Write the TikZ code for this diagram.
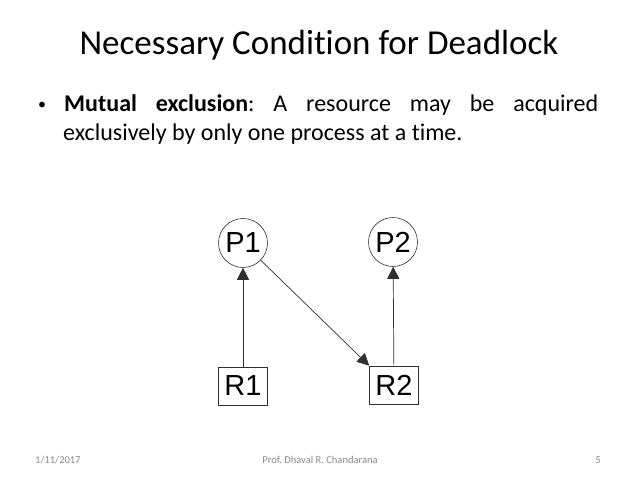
\documentclass[tikz,border=0pt]{standalone}
\usepackage{fontspec}
\setmainfont{Carlito}[Ligatures=NoCommon]
\newfontfamily\diagfont{Liberation Sans}
\usetikzlibrary{arrows.meta}
\frenchspacing

\definecolor{footgray}{HTML}{898989}
\definecolor{edgegray}{HTML}{303030}

\tikzset{
  process/.style={draw=edgegray,circle,line width=0.6pt,minimum size=49pt,inner sep=0pt,font=\diagfont\fontsize{29}{29}\selectfont},
  resource/.style={draw=edgegray,rectangle,line width=0.6pt,minimum width=49pt,minimum height=38pt,inner sep=0pt,font=\diagfont\fontsize{29}{29}\selectfont},
  request/.style={draw=edgegray,line width=0.7pt,-{Triangle[length=12pt,width=12pt]}},
  body/.style={inner sep=0pt,anchor=base west,font=\fontsize{24}{29}\selectfont},
  foot/.style={text=footgray,font=\fontsize{10.5}{12}\selectfont,inner sep=0pt}
}

\begin{document}
\begin{tikzpicture}[x=1pt,y=-1pt]
\useasboundingbox (0,0) rectangle (638,479);
% slide text
\node[inner sep=0pt,anchor=base,font=\fontsize{35}{40}\selectfont] (title) at (319,54) {Necessary Condition for Deadlock};
\node[inner sep=0pt,anchor=base,font=\fontsize{16}{16}\selectfont] (bullet) at (42,109) {\textbullet};
\node[body] (line1) at (64,111)
  {\makebox[534pt][s]{\textbf{Mutual} \textbf{exclusion}: A resource may be acquired}};
\node[body] (line2) at (63,140) {exclusively by only one process at a time.};
% graph
\node[process] (P1) at (243,243) {P1};
\node[process] (P2) at (393,242) {P2};
\node[resource] (R1) at (243,386) {R1};
\node[resource] (R2) at (394,385) {R2};
\draw[request] (R1) -- (P1);
\draw[request] (R2) -- (P2);
\draw[request] (P1) -- (R2.north west);
% footer
\node[foot,anchor=base west] (date) at (35,463) {1/11/2017};
\node[foot,anchor=base] (author) at (320,463) {Prof. Dhaval R. Chandarana};
\node[foot,anchor=base east] (page) at (601,463) {5};
\end{tikzpicture}
\end{document}
